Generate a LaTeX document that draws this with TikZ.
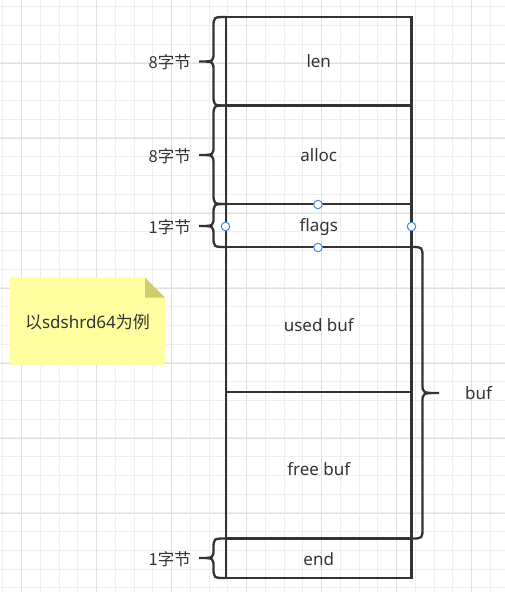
\documentclass[tikz,border=0pt]{standalone}
\usepackage{fontspec}
\setmainfont{Noto Sans}
\newfontfamily\cjk{Noto Sans CJK SC}
\definecolor{ink}{HTML}{333333}
\definecolor{gridminor}{HTML}{EEEEEE}
\definecolor{gridmajor}{HTML}{E0E0E0}
\definecolor{notefill}{HTML}{FFFFA0}
\definecolor{notefold}{HTML}{CCCC70}
\definecolor{portblue}{HTML}{4A86E8}
\newcommand\leftcurly[3]{%
  \draw[brc] (226,#1) .. controls (213.5,#1) .. (213.5,#1+11) -- (213.5,#3-9)
    .. controls (213.5,#3) .. (199,#3) .. controls (213.5,#3) .. (213.5,#3+9)
    -- (213.5,#2-11) .. controls (213.5,#2) .. (226,#2);}
\begin{document}
\begin{tikzpicture}[x=1pt,y=-1pt,
  brc/.style={draw=ink,line width=2.3pt},
  cell/.style={draw=ink,line width=2.3pt},
  txt/.style={font=\fontsize{17}{20}\selectfont,text=ink,inner sep=0pt},
  lbl/.style={font=\cjk\fontsize{16.5}{20}\selectfont,text=ink,inner sep=0pt},
  port/.style={circle,draw=portblue,fill=white,line width=1pt,minimum size=8.5pt,inner sep=0pt}]
\useasboundingbox (0,0) rectangle (505,592);
\fill[white] (0,0) rectangle (505,592);
% grid
\foreach \i in {0,...,26} \draw[gridminor,line width=1pt] ({2.95+18.75*\i},0) -- ({2.95+18.75*\i},592);
\foreach \i in {0,...,31} \draw[gridminor,line width=1pt] (0,{6.7+18.75*\i}) -- (505,{6.7+18.75*\i});
\foreach \i in {0,...,6} \draw[gridmajor,line width=1pt] ({21.7+75*\i},0) -- ({21.7+75*\i},592);
\foreach \i in {0,...,7} \draw[gridmajor,line width=1pt] (0,{-11.7+75*\i}) -- (505,{-11.7+75*\i});
% note
\fill[notefill] (9.5,277.5) -- (145,277.5) -- (165,297.5) -- (165,365) -- (9.5,365) -- cycle;
\fill[notefold] (145,277.5) -- (145,297.5) -- (165,297.5) -- cycle;
\node[inner sep=0pt,font=\fontsize{17}{20}\selectfont,text=ink] (note) at (87.5,322) {{\cjk 以}sdshrd64{\cjk 为例}};
% cells
\draw[cell] (226,17) rectangle (411.5,105.5);
\draw[cell] (226,105.5) rectangle (411.5,204);
\draw[cell] (226,204) rectangle (411.5,247);
\draw[cell] (226,247) rectangle (411.5,392);
\draw[cell] (226,392) rectangle (411.5,538.5);
\draw[cell] (226,538.5) rectangle (411.5,578);
\node[txt,anchor=base] (len) at (318.75,67.7) {len};
\node[txt,anchor=base] (alloc) at (318.75,161) {alloc};
\node[txt,anchor=base] (flags) at (318.75,231) {flags};
\node[txt,anchor=base] (used) at (318.75,331) {used buf};
\node[txt,anchor=base] (free) at (318.75,475) {free buf};
\node[txt,anchor=base] (end) at (318.75,565) {end};
% braces
\leftcurly{17}{105.5}{61.5}
\leftcurly{105.5}{204}{155}
\leftcurly{204}{247}{226}
\leftcurly{538.5}{578}{558}
\draw[brc] (411.5,247) .. controls (422.5,247) .. (422.5,258) -- (422.5,384)
  .. controls (422.5,393) .. (439,393) .. controls (422.5,393) .. (422.5,402)
  -- (422.5,527.5) .. controls (422.5,538.5) .. (411.5,538.5);
\node[lbl,anchor=east] (l1) at (191,62) {8字节};
\node[lbl,anchor=east] (l2) at (191,156) {8字节};
\node[lbl,anchor=east] (l3) at (191,227) {1字节};
\node[lbl,anchor=east] (l4) at (191,559) {1字节};
\node[txt,anchor=west] (buf) at (465,393) {buf};
% ports
\node[port] (p1) at (318,204.5) {};
\node[port] (p2) at (225.5,226.5) {};
\node[port] (p3) at (411.5,226.5) {};
\node[port] (p4) at (318,247.5) {};
\end{tikzpicture}
\end{document}
